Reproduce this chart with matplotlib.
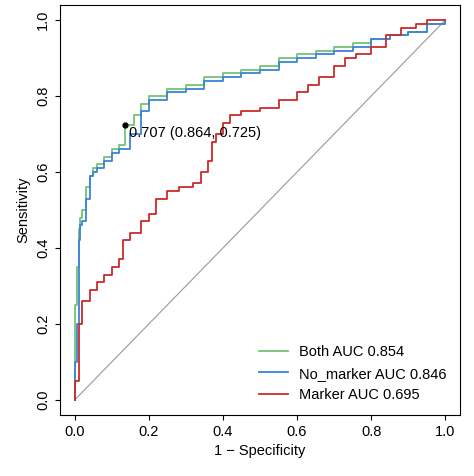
import matplotlib
matplotlib.use("Agg")
import matplotlib.pyplot as plt
plt.rcParams['font.family'] = ['Liberation Sans', 'DejaVu Sans']

both_fpr = [0,0,0.005,0.01,0.015,0.02,0.03,0.04,0.05,0.06,0.08,0.1,0.12,0.136,0.136,0.16,0.18,0.2,0.25,0.3,0.35,0.4,0.45,0.5,0.55,0.6,0.65,0.7,0.75,0.8,0.85,0.9,0.95,1.0]
both_tpr = [0,0.25,0.35,0.45,0.48,0.5,0.56,0.59,0.61,0.62,0.64,0.66,0.67,0.67,0.725,0.75,0.78,0.8,0.82,0.83,0.85,0.86,0.87,0.88,0.9,0.91,0.92,0.93,0.94,0.95,0.96,0.97,0.99,1.0]
nom_fpr = [0,0,0.005,0.01,0.015,0.02,0.03,0.04,0.05,0.06,0.08,0.1,0.12,0.15,0.18,0.2,0.25,0.3,0.35,0.4,0.45,0.5,0.55,0.6,0.65,0.7,0.75,0.8,0.85,0.9,0.95,1.0]
nom_tpr = [0,0.1,0.2,0.42,0.46,0.47,0.53,0.59,0.6,0.61,0.63,0.65,0.66,0.7,0.76,0.79,0.81,0.82,0.84,0.85,0.86,0.87,0.89,0.9,0.91,0.92,0.93,0.95,0.96,0.97,0.99,1.0]
mk_fpr = [0,0,0.01,0.02,0.04,0.06,0.08,0.1,0.12,0.13,0.15,0.18,0.2,0.22,0.25,0.28,0.32,0.34,0.36,0.37,0.38,0.4,0.42,0.45,0.5,0.55,0.6,0.63,0.66,0.7,0.73,0.76,0.8,0.84,0.88,0.92,0.95,1.0]
mk_tpr = [0,0.05,0.2,0.26,0.29,0.31,0.33,0.35,0.37,0.42,0.44,0.47,0.49,0.53,0.55,0.56,0.57,0.6,0.63,0.68,0.7,0.73,0.75,0.76,0.77,0.79,0.81,0.83,0.85,0.88,0.9,0.91,0.93,0.96,0.98,0.99,1.0,1.0]
labels = ["Both AUC 0.854", "No_marker AUC 0.846", "Marker AUC 0.695"]
best = (0.136, 0.725)
best_label = "0.707 (0.864, 0.725)"

fig = plt.figure(figsize=(4.74, 4.76), dpi=100)
ax = fig.add_axes([60/474, 61/476, 400/474, 410/476])
ax.plot([0, 1], [0, 1], color="#999999", lw=0.8)
ax.plot(both_fpr, both_tpr, color="#74c476", lw=1.3, label=labels[0], drawstyle="steps-post")
ax.plot(nom_fpr, nom_tpr, color="#3a84d8", lw=1.3, label=labels[1], drawstyle="steps-post")
ax.plot(mk_fpr, mk_tpr, color="#cc2a2a", lw=1.3, label=labels[2], drawstyle="steps-post")
ax.plot(*best, "o", color="black", ms=3.5)
ax.text(best[0] + 0.01, best[1] - 0.005, best_label, fontsize=10.5, va="top")
ax.set_xlim(-0.04, 1.04)
ax.set_ylim(-0.04, 1.04)
ticks = [0, 0.2, 0.4, 0.6, 0.8, 1.0]
ax.set_xticks(ticks)
ax.set_yticks(ticks)
ax.set_xticklabels([f"{t:.1f}" for t in ticks], fontsize=10.5)
ax.set_yticklabels([f"{t:.1f}" for t in ticks], fontsize=10.5, rotation=90, va="center")
ax.set_xlabel("1 \u2212 Specificity", fontsize=10.5)
ax.set_ylabel("Sensitivity", fontsize=10.5)
ax.legend(loc="lower right", frameon=False, fontsize=10.5, handlelength=2)
fig.savefig("out.png", dpi=100)
